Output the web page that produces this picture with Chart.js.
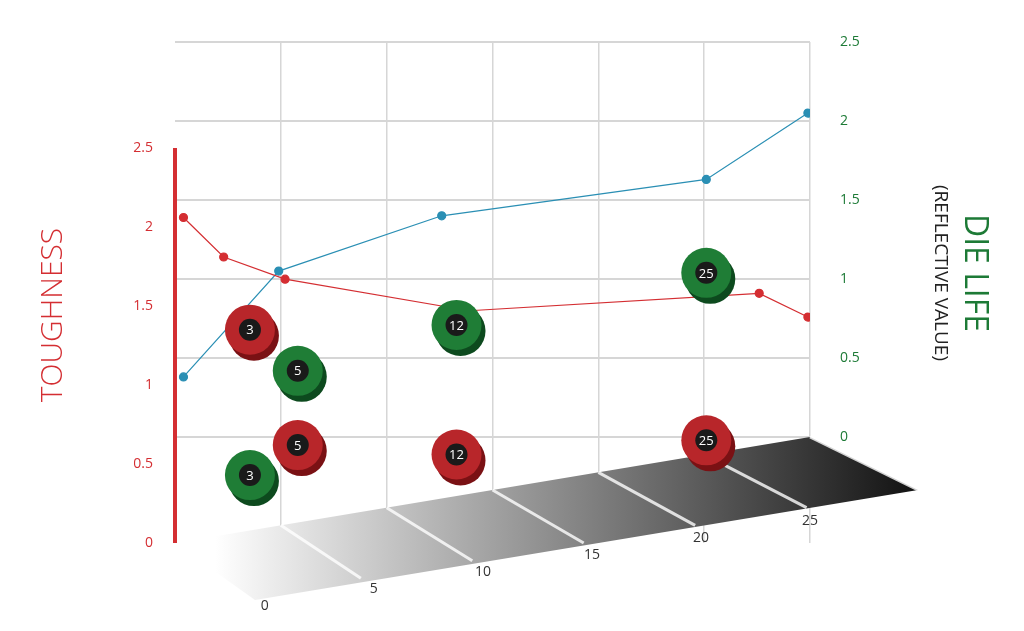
<!DOCTYPE html>
<html>
<head>
<meta charset="utf-8">
<script src="https://cdn.jsdelivr.net/npm/chart.js@4/dist/chart.umd.min.js"></script>
<style>
  html, body { margin: 0; background: #fff; }
  #wrap { width: 1024px; height: 631px; }
</style>
</head>
<body>
<div id="wrap"><canvas id="dieChart"></canvas></div>
<script>
// toughness curve (left axis)
const toughX = [-4.6, -2.7, 0.2, 8.9, 22.6, 24.9];
const toughY = [2.06, 1.81, 1.67, 1.47, 1.58, 1.43];
// die life curve (right axis)
const lifeX = [-4.6, -0.1, 7.6, 20.1, 24.9];
const lifeY = [0.38, 1.05, 1.4, 1.63, 2.05];
// disk markers
const diskLabels = ['3', '5', '12', '25'];
const diskX = [-1.46, 0.8, 8.3, 20.1];
const redDiskY = [1.35, 0.62, 0.56, 0.65];
const greenDiskY = [0.43, 1.09, 1.38, 1.71];
const xTicks = [0, 5, 10, 15, 20, 25];
const leftTicks = [0, 0.5, 1, 1.5, 2, 2.5];
const rightTicks = [0, 0.5, 1, 1.5, 2, 2.5];

const RED = '#d42e32';
const GREEN = '#1d7a36';
const BLUE = '#2a8fb4';

const pts = (xs, ys) => xs.map((x, i) => ({ x: x, y: ys[i] }));

const decor = {
  id: 'decor',
  beforeDatasetsDraw(chart) {
    const { ctx, scales } = chart;
    const x = scales.x, yl = scales.yL;
    // floor
    const x0 = x.getPixelForValue(-5), x1 = x.getPixelForValue(25);
    const b = yl.getPixelForValue(0);
    ctx.save();
    const g = ctx.createLinearGradient(x0 + 40, 0, x1 + 100, 0);
    g.addColorStop(0, 'rgba(255,255,255,1)');
    g.addColorStop(1, 'rgba(20,20,20,1)');
    ctx.fillStyle = g;
    ctx.beginPath();
    ctx.moveTo(x0, b);
    ctx.lineTo(x1, b - 106);
    ctx.lineTo(x1 + 108, b - 53);
    ctx.lineTo(x0 + 80, b + 57);
    ctx.closePath();
    ctx.fill();
    ctx.strokeStyle = 'rgba(255,255,255,0.8)';
    ctx.lineWidth = 3;
    xTicks.forEach(v => {
      const t = v / 25;
      const px = x.getPixelForValue(v);
      const top = b - 106 * ((px - x0) / (x1 - x0));
      ctx.beginPath();
      ctx.moveTo(px, top);
      ctx.lineTo(px + 108 - 28 * (1 - t), top + 53);
      ctx.stroke();
    });
    // left red axis line from 0 to 2.5
    ctx.strokeStyle = RED;
    ctx.lineWidth = 4;
    ctx.beginPath();
    ctx.moveTo(x0, yl.getPixelForValue(0));
    ctx.lineTo(x0, yl.getPixelForValue(2.5));
    ctx.stroke();
    ctx.restore();
  },
  afterDatasetsDraw(chart) {
    const { ctx, scales } = chart;
    [1, 2].forEach((di, k) => {
      const meta = chart.getDatasetMeta(di + 1);
      const side = k === 0 ? '#7a1114' : '#0d4a1e';
      const face = k === 0 ? '#b8262a' : '#1f7d36';
      meta.data.forEach((p, i) => {
        const r = 25;
        ctx.save();
        ctx.fillStyle = side;
        ctx.beginPath(); ctx.arc(p.x + 4, p.y + 6, r, 0, Math.PI * 2); ctx.fill();
        ctx.fillStyle = face;
        ctx.beginPath(); ctx.arc(p.x, p.y, r, 0, Math.PI * 2); ctx.fill();
        ctx.fillStyle = '#1a1a1a';
        ctx.beginPath(); ctx.arc(p.x, p.y, 11, 0, Math.PI * 2); ctx.fill();
        ctx.fillStyle = '#fff';
        ctx.font = '13px "Open Sans"';
        ctx.textAlign = 'center'; ctx.textBaseline = 'middle';
        ctx.fillText(diskLabels[i], p.x, p.y + 1);
        ctx.restore();
      });
    });
    // x labels along the floor edge
    const x = scales.x;
    ctx.save();
    ctx.fillStyle = '#333';
    ctx.font = '14px "Open Sans"';
    ctx.textAlign = 'center';
    xTicks.forEach(v => {
      const t = v / 25;
      ctx.fillText(String(v), x.getPixelForValue(v) - 16 * (1 - t), 610 - 85 * t);
    });
    // titles
    ctx.font = '300 30px "Open Sans"';
    ctx.fillStyle = RED;
    ctx.translate(62, 315); ctx.rotate(-Math.PI / 2);
    ctx.fillText('TOUGHNESS', 0, 0);
    ctx.restore();
    ctx.save();
    ctx.translate(965, 273); ctx.rotate(Math.PI / 2);
    ctx.textAlign = 'center';
    ctx.fillStyle = GREEN; ctx.font = '32px "Open Sans"';
    ctx.fillText('DIE LIFE', 0, 0);
    ctx.fillStyle = '#222'; ctx.font = '19px "Open Sans"';
    ctx.fillText('(REFLECTIVE VALUE)', 0, 30);
    ctx.restore();
  }
};

new Chart(document.getElementById('dieChart'), {
  type: 'scatter',
  data: {
    datasets: [
      { type: 'line', data: pts(toughX, toughY), yAxisID: 'yL', borderColor: RED, backgroundColor: RED, borderWidth: 1.2, pointRadius: 4, tension: 0 },
      { type: 'line', data: pts(lifeX, lifeY), yAxisID: 'yR', borderColor: BLUE, backgroundColor: BLUE, borderWidth: 1.2, pointRadius: 4, tension: 0 },
      { data: pts(diskX, redDiskY), yAxisID: 'yL', pointRadius: 0 },
      { data: pts(diskX, greenDiskY), yAxisID: 'yL', pointRadius: 0 }
    ]
  },
  options: {
    responsive: true,
    maintainAspectRatio: false,
    animation: false,
    layout: { padding: { left: 130, right: 154, top: 42, bottom: 88 } },
    plugins: { legend: { display: false }, tooltip: { enabled: false } },
    scales: {
      x: {
        type: 'linear', min: -5, max: 25, display: true,
        ticks: { display: false },
        afterBuildTicks: s => { s.ticks = xTicks.map(v => ({ value: v })); },
        grid: { color: '#d6d6d6', lineWidth: 1.5, drawTicks: false },
        border: { display: false }
      },
      yL: {
        position: 'left', min: 0, max: 2.5 * 501 / 395,
        afterBuildTicks: s => { s.ticks = leftTicks.map(v => ({ value: v })); },
        afterFit: s => { s.width = 45; },
        ticks: { color: RED, font: { family: 'Open Sans', size: 14 }, padding: 14, callback: v => String(v) },
        grid: { display: false },
        border: { display: false }
      },
      yR: {
        position: 'right', min: -106 / 158, max: 2.5,
        afterBuildTicks: s => { s.ticks = rightTicks.map(v => ({ value: v })); },
        afterFit: s => { s.width = 60; },
        ticks: { color: GREEN, font: { family: 'Open Sans', size: 14 }, padding: 30, callback: v => String(v) },
        grid: { color: '#d6d6d6', lineWidth: 2, drawTicks: false },
        border: { display: false }
      }
    }
  },
  plugins: [decor]
});
</script>
</body>
</html>
